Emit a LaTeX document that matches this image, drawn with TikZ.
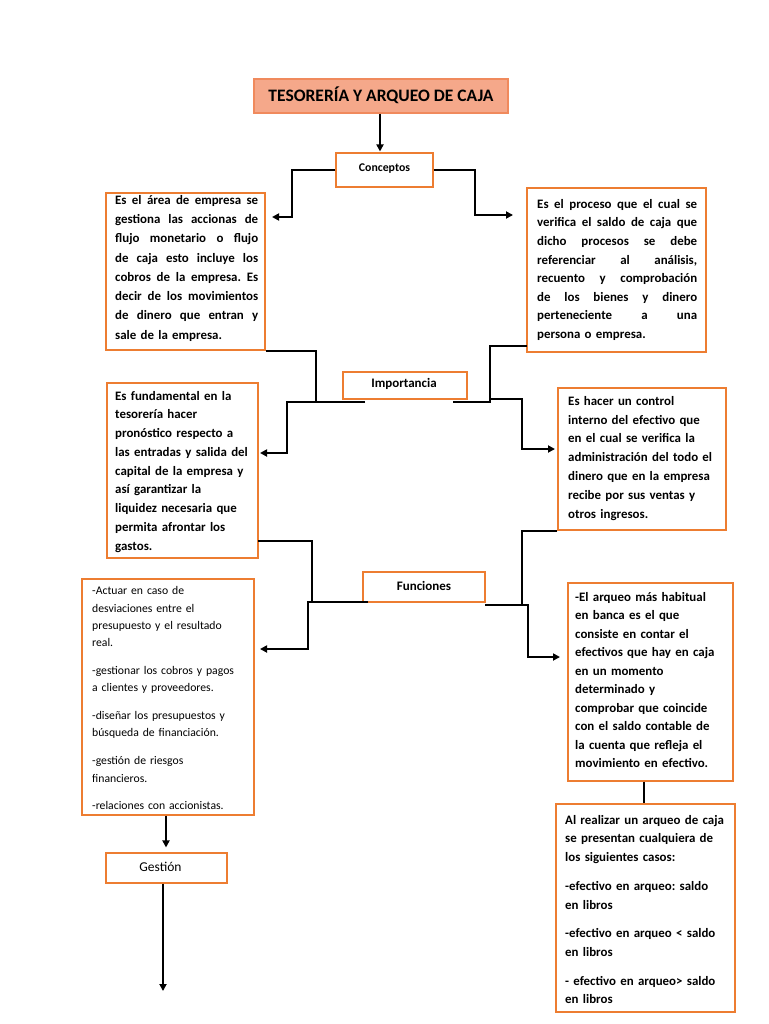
\documentclass[tikz,border=0pt]{standalone}
\usepackage{fontspec}
\setmainfont{Carlito}
\usetikzlibrary{arrows.meta,fit}
\definecolor{org}{HTML}{ED7D31}
\definecolor{salmon}{HTML}{F5A88A}
\definecolor{tborder}{HTML}{F08A5D}
\newlength\jw
\newcommand\jl[1]{\leavevmode{\spaceskip=0.226em plus 5em\relax\hbox to \jw{#1}}\\}
\newcommand\tstrut{\rule{0pt}{10pt}}
\newcommand\rstrut{\rule{0pt}{9pt}}
\frenchspacing
\begin{document}
\begin{tikzpicture}[x=1pt,y=-1pt,
  box/.style={draw=org, line width=1.1pt, fill=white, inner sep=0pt},
  lbl/.style={inner sep=0pt, font=\bfseries\fontsize{13}{15}\selectfont},
  txt/.style={anchor=north west, inner sep=0pt, align=left, font=\bfseries\fontsize{12.9}{18.6}\selectfont},
  conn/.style={line width=2pt, draw=black},
  arr/.style={conn, -{Triangle[length=7pt,width=7pt]}}]
\useasboundingbox (0,0) rectangle (768,1024);
\fill[white] (0,0) rectangle (768,1024);

% boxes
\node[box, draw=tborder, fill=salmon, fit={(254,79) (508,113)}] (t) {};
\node[box, fit={(336,153) (433,187)}] (c) {};
\node[box, fit={(106,193) (265,350)}] (b1) {};
\node[box, fit={(527,188) (706,352)}] (b2) {};
\node[box, fit={(343,372) (467,399)}] (imp) {};
\node[box, fit={(107,383) (258,558)}] (b3) {};
\node[box, fit={(558,388) (726,530)}] (b4) {};
\node[box, fit={(363,572) (485,602)}] (f) {};
\node[box, fit={(82,579) (254,815)}] (b7) {};
\node[box, fit={(568,583) (733,781)}] (b5) {};
\node[box, fit={(556,804) (735,1012)}] (b6) {};
\node[box, fit={(106,853) (227,883)}] (g) {};

% labels
\node[lbl, font=\bfseries\fontsize{17.5}{20}\selectfont] (tT) at ([yshift=0.5pt]t.center) {TESORERÍA Y ARQUEO DE CAJA};
\node[lbl, font=\bfseries\fontsize{11.8}{14}\selectfont] (cT) at ([yshift=1.5pt]c.center) {Conceptos};
\node[lbl] (impT) at ([xshift=-1pt,yshift=1.5pt]imp.center) {Importancia};
\node[lbl] (fT) at ([yshift=1.5pt]f.center) {Funciones};
\node[lbl, font=\fontsize{13.5}{15}\selectfont] (gT) at ([xshift=-6pt,yshift=1.5pt]g.center) {Gestión};

% texts
\node[txt, text width=143pt, font=\bfseries\fontsize{12.9}{19.3}\selectfont] (tx1) at (115,194) {\setlength\jw{143pt}\tstrut\jl{Es el área de empresa se}\jl{gestiona las accionas de}\jl{flujo monetario o flujo}\jl{de caja esto incluye los}\jl{cobros de la empresa. Es}\jl{decir de los movimientos}\jl{de dinero que entran y}sale de la empresa.};
\node[txt, text width=160pt] (tx2) at (537,198) {\setlength\jw{160pt}\tstrut\jl{Es el proceso que el cual se}\jl{verifica el saldo de caja que}\jl{dicho procesos se debe}\jl{referenciar al análisis,}\jl{recuento y comprobación}\jl{de los bienes y dinero}\jl{perteneciente a una}persona o empresa.};
\node[txt, text width=145pt, font=\bfseries\fontsize{12.9}{18.75}\selectfont] (tx3) at (115,390) {\tstrut Es fundamental en la\\tesorería hacer\\pronóstico respecto a\\las entradas y salida del\\capital de la empresa y\\así garantizar la\\liquidez necesaria que\\permita afrontar los\\gastos.};
\node[txt, text width=155pt, font=\bfseries\fontsize{12.9}{18.8}\selectfont] (tx4) at (568,395) {\tstrut Es hacer un control\\interno del efectivo que\\en el cual se verifica la\\administración del todo el\\dinero que en la empresa\\recibe por sus ventas y\\otros ingresos.};
\node[txt, text width=155pt, font=\bfseries\fontsize{12.9}{18.5}\selectfont] (tx5) at (575,591) {\tstrut -El arqueo más habitual\\en banca es el que\\consiste en contar el\\efectivos que hay en caja\\en un momento\\determinado y\\comprobar que coincide\\con el saldo contable de\\la cuenta que refleja el\\movimiento en efectivo.};
\node[txt, text width=165pt, font=\bfseries\fontsize{12.9}{18.7}\selectfont] (tx6) at (565,814) {\tstrut Al realizar un arqueo de caja\\se presentan cualquiera de\\los siguientes casos:\\[10pt]-efectivo en arqueo: saldo\\en libros\\[10pt]-efectivo en arqueo < saldo\\en libros\\[10pt]- efectivo en arqueo> saldo\\en libros};
\node[txt, text width=160pt, font=\fontsize{11.7}{17.3}\selectfont] (tx7) at (92,585.6) {\rstrut -Actuar en caso de\\desviaciones entre el\\presupuesto y el resultado\\real.\\[10.5pt]-gestionar los cobros y pagos\\a clientes y proveedores.\\[10.5pt]-diseñar los presupuestos y\\búsqueda de financiación.\\[10.5pt]-gestión de riesgos\\financieros.\\[10.5pt]-relaciones con accionistas.};

% helper coordinates
\coordinate (kL) at (292,217);  \coordinate (aL) at (272,217);
\coordinate (kR) at (475,215);  \coordinate (aR) at (513,215);
\coordinate (j1) at (316,402);
\coordinate (iL) at (365,402);  \coordinate (k3) at (287,453); \coordinate (a3) at (260,453);
\coordinate (iR) at (453,402);  \coordinate (k2) at (490,346); \coordinate (e2) at (527,346);
\coordinate (j2) at (490,399);  \coordinate (k4) at (522,449); \coordinate (a4) at (555,449);
\coordinate (s3) at (258,541);  \coordinate (j3) at (312,602);
\coordinate (fL) at (368,602);  \coordinate (k5) at (308,649); \coordinate (a5) at (260,649);
\coordinate (j4) at (522,605);
\coordinate (fR) at (485,605);  \coordinate (k6) at (528,657); \coordinate (a6) at (560,657);
\coordinate (gEnd) at (163,991);

% connectors
\draw[arr] ([xshift=-1pt]t.south) -- ([xshift=-1pt,yshift=1pt]t.south |- c.north);
\draw[arr] (c.west) -| (kL) -- (aL);
\draw[arr] (c.east) -| (kR) -- (aR);
\draw[conn] (b1.south east) -| (j1);
\draw[arr] (iL) -| (k3) -- (a3);
\draw[conn] (iR) -| (k2) -- (e2);
\draw[arr] (j2) -| (k4) -- (a4);
\draw[conn] (s3) -| (j3);
\draw[arr] (fL) -| (k5) -- (a5);
\draw[conn] (b4.south west) -| (j4);
\draw[arr] (fR) -| (k6) -- (a6);
\draw[conn] ([xshift=-6.5pt]b5.south) -- ([xshift=-1.5pt]b6.north);
\draw[arr] ([xshift=-2pt]b7.south) -- ([xshift=-0.5pt,yshift=5pt]g.north);
\draw[arr] ([xshift=-3.5pt]g.south) -- (gEnd);
\end{tikzpicture}
\end{document}
